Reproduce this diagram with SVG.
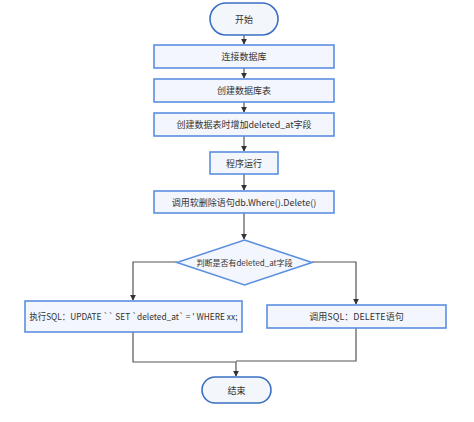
<svg xmlns="http://www.w3.org/2000/svg" width="474" height="422" viewBox="0 0 474 422">
<style>
.term{fill:#f3f6fb;stroke:#3b6fc4;stroke-width:1.6}
.box{fill:#f3f6fc;stroke:#5b8fe0;stroke-width:1.6}
.t{font-family:"Noto Sans CJK SC","Noto Sans",sans-serif;font-size:9px;fill:#333;text-anchor:middle;dominant-baseline:central}
.c{fill:none;stroke:#555;stroke-width:1.2}
</style>
<defs>
<marker id="ar" viewBox="0 0 8 8" refX="7" refY="4" markerWidth="6" markerHeight="6" orient="auto" markerUnits="userSpaceOnUse">
<path d="M0,0 L8,4 L0,8 z" fill="#333"/>
</marker>
</defs>
<rect width="474" height="422" fill="#fff"/>
<g id="connectors">
<path class="c" d="M244,35 V44" marker-end="url(#ar)"/>
<path class="c" d="M244,68 V78" marker-end="url(#ar)"/>
<path class="c" d="M244,102 V112" marker-end="url(#ar)"/>
<path class="c" d="M244,136 V151" marker-end="url(#ar)"/>
<path class="c" d="M244,174 V190" marker-end="url(#ar)"/>
<path class="c" d="M244,213 V239" marker-end="url(#ar)"/>
<path class="c" d="M177,262 H133 V300" marker-end="url(#ar)"/>
<path class="c" d="M312,262 H356 V304" marker-end="url(#ar)"/>
<path class="c" d="M133,332 V362 H236 V376" marker-end="url(#ar)"/>
<path class="c" d="M356,328 V361 H236"/>
</g>
<g id="start"><rect class="term" x="210" y="3" width="68" height="32" rx="16"/><text class="t" x="244" y="19">开始</text></g>
<g id="n1"><rect class="box" x="154" y="45" width="180" height="23"/><text class="t" x="244" y="56.5">连接数据库</text></g>
<g id="n2"><rect class="box" x="154" y="79" width="180" height="23"/><text class="t" x="244" y="90.5">创建数据库表</text></g>
<g id="n3"><rect class="box" x="154" y="113" width="180" height="23"/><text class="t" x="244" y="124.5">创建数据表时增加deleted_at字段</text></g>
<g id="n4"><rect class="box" x="210" y="152" width="68" height="22"/><text class="t" x="244" y="163">程序运行</text></g>
<g id="n5"><rect class="box" x="154" y="191" width="180" height="22"/><text class="t" x="244" y="202">调用软删除语句db.Where().Delete()</text></g>
<g id="d1"><polygon class="box" points="244.5,240 312,262.5 244.5,285 177,262.5"/><text class="t" x="244.5" y="262.5" style="font-size:8px">判断是否有deleted_at字段</text></g>
<g id="n6"><rect class="box" x="25" y="301" width="217" height="31"/><text class="t" x="133.5" y="316.5" textLength="208" lengthAdjust="spacingAndGlyphs">执行SQL：UPDATE `` SET `deleted_at` = ' WHERE xx;</text></g>
<g id="n7"><rect class="box" x="267" y="305" width="179" height="23"/><text class="t" x="356.5" y="316.5">调用SQL：DELETE语句</text></g>
<g id="end"><rect class="term" x="202" y="377" width="69" height="26" rx="13"/><text class="t" x="236.5" y="390">结束</text></g>
</svg>
